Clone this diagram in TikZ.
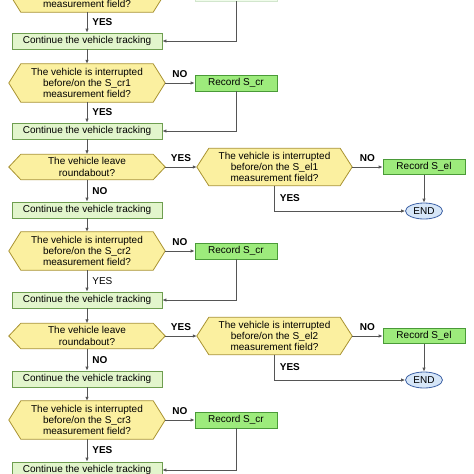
\documentclass[tikz,border=0pt]{standalone}
\usepackage{fontspec}
\setmainfont{Liberation Sans}
\usepackage{xcolor}
\usetikzlibrary{arrows.meta,backgrounds,shapes.geometric}
\definecolor{yellowF}{HTML}{FBF0A0}
\definecolor{yellowD}{HTML}{A89230}
\definecolor{contF}{HTML}{E2F5CC}
\definecolor{contD}{HTML}{6E9E50}
\definecolor{recF}{HTML}{9DEB7C}
\definecolor{recD}{HTML}{4A9A38}
\definecolor{endF}{HTML}{D6E6F8}
\definecolor{endD}{HTML}{3F63A6}
\definecolor{lineG}{HTML}{555555}

\begin{document}
\begin{tikzpicture}[x=1pt, y=-1pt,
    every node/.style={font=\fontsize{10}{11.3}\selectfont, inner sep=0pt},
    decision/.style={minimum width=156pt, minimum height=38pt, align=center},
    leave/.style={minimum width=156pt, minimum height=25pt, align=center},
    hexline/.style={draw=yellowD, fill=yellowF, line width=0.8pt},
    contbox/.style={draw=contD, fill=contF, line width=0.8pt, minimum width=150pt, minimum height=16pt},
    recbox/.style={draw=recD, fill=recF, line width=0.8pt, minimum width=82pt, minimum height=16pt},
    endnode/.style={ellipse, draw=endD, fill=endF, line width=0.8pt, minimum width=37pt, minimum height=16pt},
    flow/.style={draw=lineG, line width=0.8pt, -{Latex[length=4pt,width=3.5pt]}},
    lbl/.style={font=\fontsize{10}{12}\selectfont\bfseries, inner sep=2pt},
    lbllight/.style={font=\fontsize{10}{12}\selectfont, inner sep=2pt}
]
\useasboundingbox (0,0) rectangle (474,474);

% ---- top (cut off) ----
\node[decision] (d0) at (87,-7) {};
\node (d0txt) at (87,4) {measurement field?};
\node[recbox, draw=recD!25, fill=recF!15] (r0) at (236,-7) {};
\node[contbox] (c1) at (87,41) {Continue the vehicle tracking};

% ---- S_cr1 ----
\node[decision] (d1) at (87,83) {The vehicle is interrupted\\before/on the S\_cr1\\measurement field?};
\node[recbox] (r1) at (236,83) {Record S\_cr};
\node[contbox] (c2) at (87,131) {Continue the vehicle tracking};

% ---- leave 1 ----
\node[leave] (l1) at (87,167) {The vehicle leave\\roundabout?};
\node[decision, minimum width=155pt, minimum height=37pt] (e1) at (274.5,167) {The vehicle is interrupted\\before/on the S\_el1\\measurement field?};
\node[recbox, minimum height=15pt] (s1) at (424,167) {Record S\_el};
\node[endnode] (n1) at (424,211) {END};
\node[contbox] (c3) at (87,210) {Continue the vehicle tracking};

% ---- S_cr2 ----
\node[decision] (d2) at (87,251) {The vehicle is interrupted\\before/on the S\_cr2\\measurement field?};
\node[recbox] (r2) at (236,251) {Record S\_cr};
\node[contbox] (c4) at (87,300) {Continue the vehicle tracking};

% ---- leave 2 ----
\node[leave] (l2) at (87,336) {The vehicle leave\\roundabout?};
\node[decision, minimum width=155pt, minimum height=37pt] (e2) at (274.5,336) {The vehicle is interrupted\\before/on the S\_el2\\measurement field?};
\node[recbox, minimum height=15pt] (s2) at (424,336) {Record S\_el};
\node[endnode] (n2) at (424,380) {END};
\node[contbox] (c5) at (87,379) {Continue the vehicle tracking};

% ---- S_cr3 ----
\node[decision] (d3) at (87,420) {The vehicle is interrupted\\before/on the S\_cr3\\measurement field?};
\node[recbox] (r3) at (236,420) {Record S\_cr};
\node[contbox] (c6) at (87,470) {Continue the vehicle tracking};

% ---- hexagons ----
\begin{scope}[on background layer]
\foreach \n in {d0,d1,l1,e1,d2,l2,e2,d3}
  \draw[hexline] (\n.west) -- ([xshift=12pt]\n.north west) -- ([xshift=-12pt]\n.north east)
    -- (\n.east) -- ([xshift=-12pt]\n.south east) -- ([xshift=12pt]\n.south west) -- cycle;
\end{scope}

% ---- connectors ----
\draw[flow] (d0) -- node[lbl, right=3pt] {YES} (c1);
\draw[flow] (r0.south) |- (c1.east);
\draw[flow] (c1) -- (d1);
\draw[flow] (d1) -- node[lbl, above=3pt] {NO} (r1);
\draw[flow] (d1) -- node[lbl, right=3pt] {YES} (c2);
\draw[flow] (r1.south) |- (c2.east);
\draw[flow] (c2) -- (l1);
\draw[flow] (l1) -- node[lbl, above=3pt] {YES} (e1);
\draw[flow] (e1) -- node[lbl, above=3pt] {NO} (s1);
\draw[flow] (s1) -- (n1);
\draw[flow] (e1.south) |- node[lbl, pos=0.25, right=3pt] {YES} (n1.west);
\draw[flow] (l1) -- node[lbl, right=3pt] {NO} (c3);
\draw[flow] (c3) -- (d2);
\draw[flow] (d2) -- node[lbl, above=3pt] {NO} (r2);
\draw[flow] (d2) -- node[lbllight, right=3pt] {YES} (c4);
\draw[flow] (r2.south) |- (c4.east);
\draw[flow] (c4) -- (l2);
\draw[flow] (l2) -- node[lbl, above=3pt] {YES} (e2);
\draw[flow] (e2) -- node[lbl, above=3pt] {NO} (s2);
\draw[flow] (s2) -- (n2);
\draw[flow] (e2.south) |- node[lbl, pos=0.25, right=3pt] {YES} (n2.west);
\draw[flow] (l2) -- node[lbl, right=3pt] {NO} (c5);
\draw[flow] (c5) -- (d3);
\draw[flow] (d3) -- node[lbl, above=3pt] {NO} (r3);
\draw[flow] (d3) -- node[lbl, right=3pt] {YES} (c6);
\draw[flow] (r3.south) |- (c6.east);
\end{tikzpicture}
\end{document}
